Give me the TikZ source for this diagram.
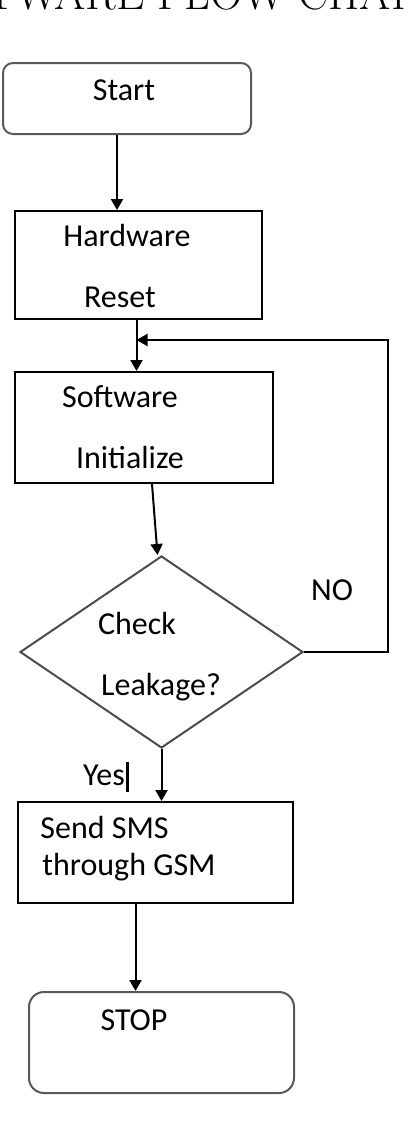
\documentclass[tikz,border=0pt]{standalone}
\usepackage{fontspec}
\usepackage{tikz}
\usetikzlibrary{arrows.meta, positioning, shapes.geometric}
\newfontfamily\calibri{Carlito}

\begin{document}
\begin{tikzpicture}[x=0.5pt, y=-0.5pt,
				>={Triangle[length=5.5pt, width=6pt]},
				line join=miter,
				term/.style={draw=black!65, line width=1pt, rounded corners=5pt, inner sep=0pt},
				proc/.style={draw=black, line width=1pt, inner sep=0pt},
				txt/.style={font=\calibri\fontsize{16}{19}\selectfont, anchor=base, inner sep=0pt},
				link/.style={->, black, line width=1pt}]
				\useasboundingbox (0,0) rectangle (409,1124);
				\clip (0,0) rectangle (409,1124);
				\node at (-97,10) (title) [anchor=base west, inner sep=0pt, font=\fontsize{22.5}{26}\selectfont] {SOFTWARE FLOW CHART};
				\node at (127,98.5) (start) [term, minimum width=124pt, minimum height=35.5pt] {};
				\node at (138.5,265) (hw) [proc, minimum width=123.5pt, minimum height=54pt] {};
				\node at (144,427.5) (sw) [proc, minimum width=129pt, minimum height=55.5pt] {};
				\node at (161.5,652) (chk) [diamond, draw=black!70, line width=1pt, inner sep=0pt, minimum width=141.5pt, minimum height=96pt] {};
				\node at (155.5,852.5) (sms) [proc, minimum width=137.5pt, minimum height=50.5pt] {};
				\node at (161.5,1042.5) (stop) [term, rounded corners=7.5pt, minimum width=132.5pt, minimum height=50.5pt] {};
				\node at (124,100) (startt) [txt] {Start};
				\node at (127,246) (hwa) [txt] {Hardware};
				\node at (120,307) (hwb) [txt] {Reset};
				\node at (120,407) (swa) [txt] {Software};
				\node at (130,468) (swb) [txt] {Initialize};
				\node at (137,634) (chka) [txt] {Check};
				\node at (161,695) (chkb) [txt] {Leakage?};
				\node at (332,600) (no) [txt] {NO};
				\node at (106,785) (yes) [txt] {Yes\kern0.5pt\rule[-3.5pt]{1.5pt}{15pt}};
				\node at (40,838) (smsa) [txt, anchor=base west] {Send SMS};
				\node at (42,875) (smsb) [txt, anchor=base west] {through GSM};
				\node at (134,1030) (stopt) [txt] {STOP};
				\draw[link] ([xshift=-5pt]start.south) -- ([xshift=-5pt]start.south |- hw.north);
				\draw[link] ([xshift=-1pt]hw.south) -- ([xshift=-1pt]hw.south |- sw.north);
				\draw[link] ([xshift=4pt]sw.south) -- ([xshift=-2pt]chk.north);
				\draw[link] (chk.east) -- ++(84,0) |- ([xshift=-1pt, yshift=-10pt]hw.south);
				\draw[link] (chk.south) -- (chk.south |- sms.north);
				\draw[link] ([xshift=-10pt]sms.south) -- ([xshift=-10pt]sms.south |- stop.north);
			\end{tikzpicture}
\end{document}
